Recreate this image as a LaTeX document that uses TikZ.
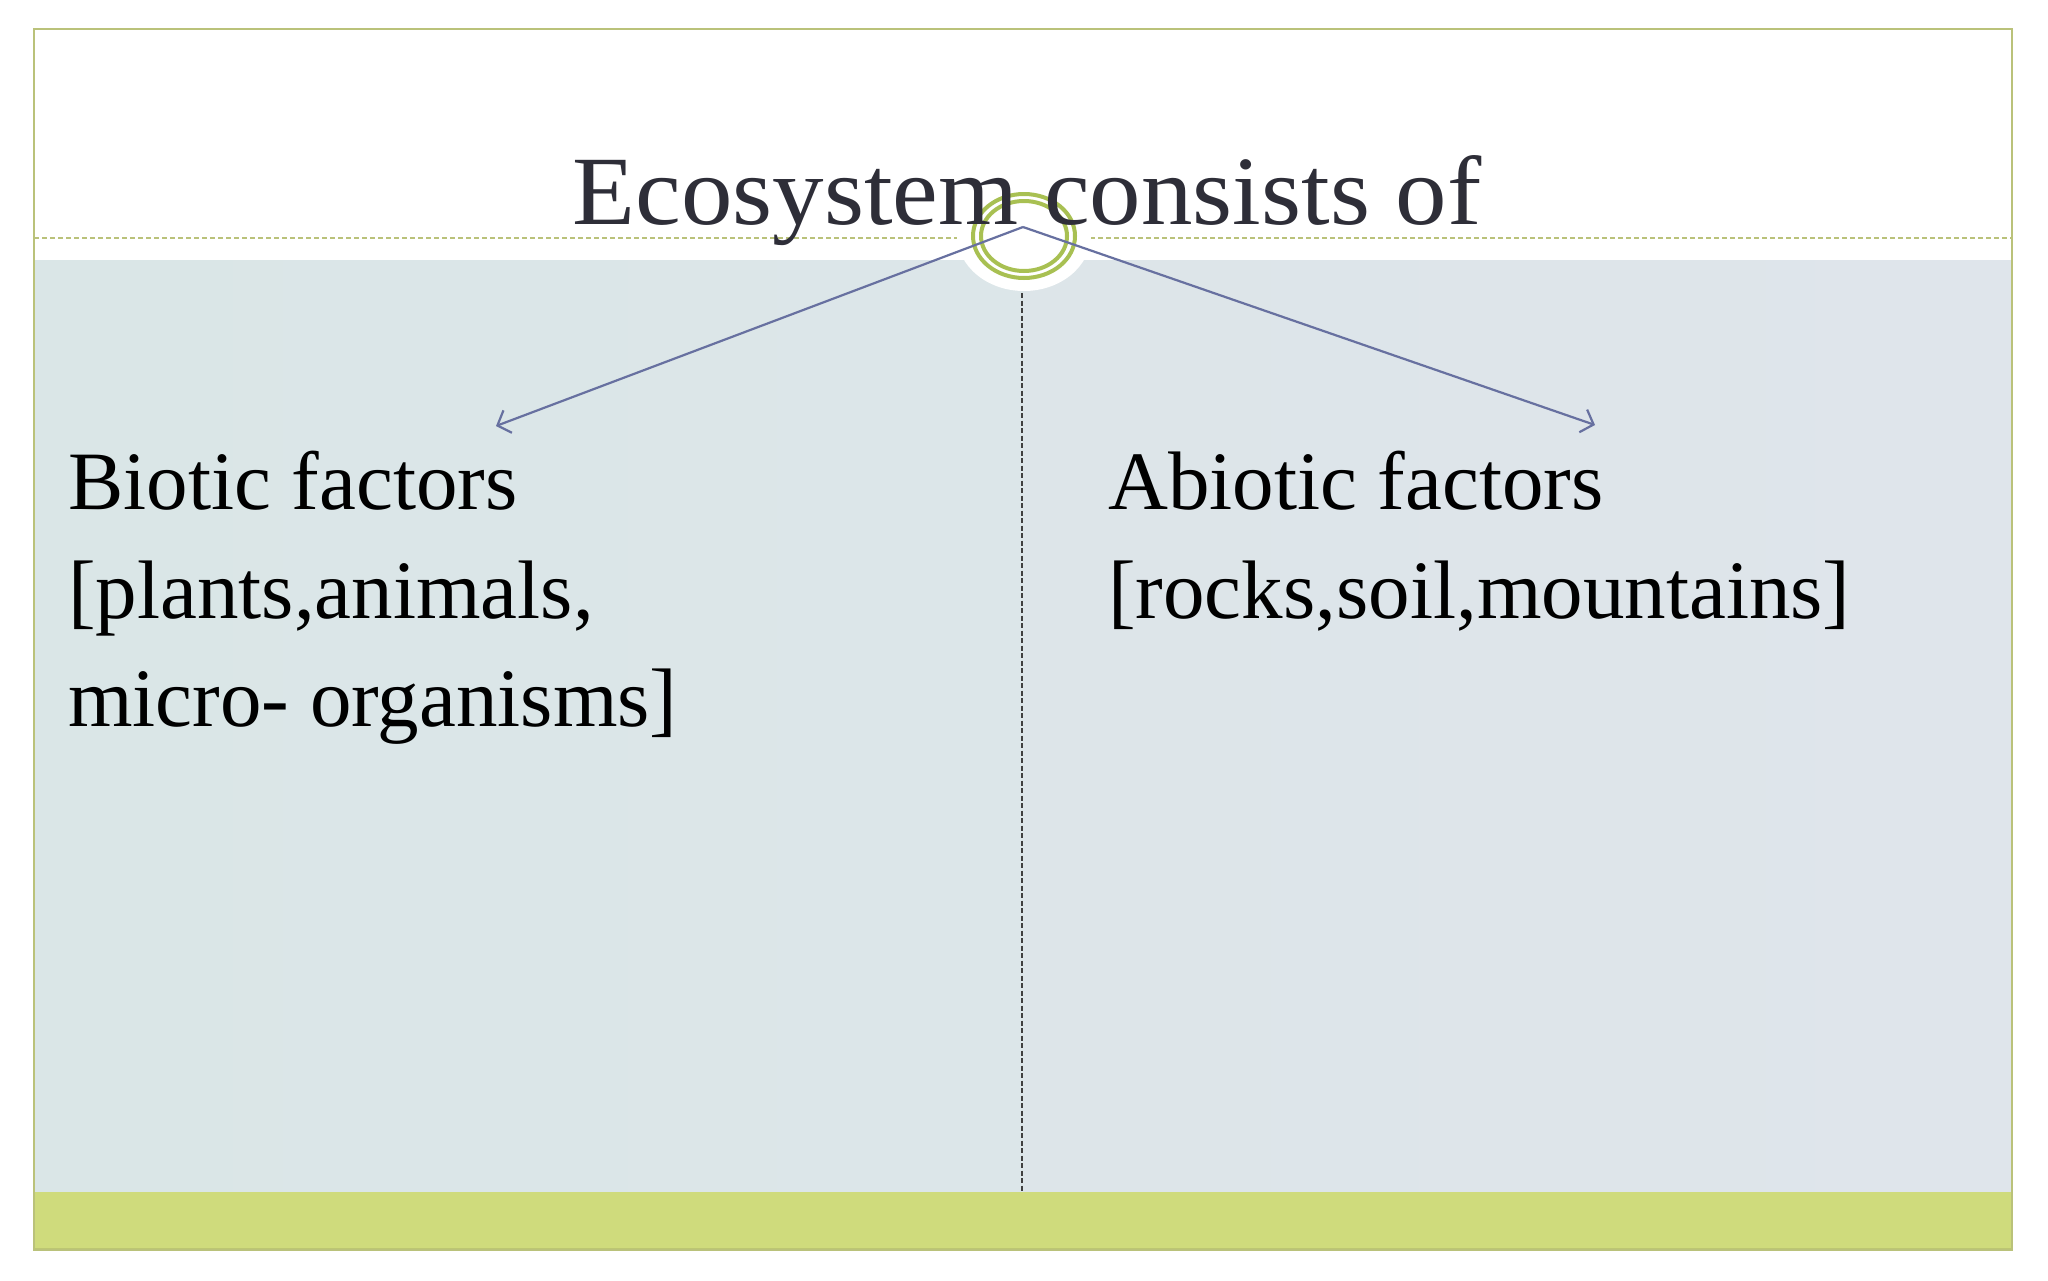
\documentclass[tikz,border=0pt]{standalone}
\usepackage{fontspec}
\setmainfont{Liberation Serif}
\usetikzlibrary{arrows.meta}
\definecolor{framec}{HTML}{BAC27A}
\definecolor{bluel}{HTML}{DAE6E7}
\definecolor{bluer}{HTML}{DFE5EB}
\definecolor{barc}{HTML}{CFDB7C}
\definecolor{barline}{HTML}{BCC672}
\definecolor{ringc}{HTML}{A8C052}
\definecolor{arrowc}{HTML}{6770A0}
\definecolor{titlec}{HTML}{2E2E38}
\tikzset{
  titletext/.style={inner sep=0pt, anchor=base, text=titlec, font=\fontsize{98}{110}\selectfont},
  bodytext/.style={inner sep=0pt, anchor=base west, text=black, font=\fontsize{83}{108}\selectfont},
  linkarrow/.style={draw=arrowc, line width=2.2pt, -{Straight Barb[length=11pt, width=24pt, line width=2.2pt]}},
  ring/.style={draw=ringc, line width=4pt},
}
\begin{document}
\begin{tikzpicture}[x=1pt, y=-1pt]
\useasboundingbox (0,0) rectangle (2048,1280);
\fill[white] (0,0) rectangle (2048,1280);
% blue content area
\shade[left color=bluel, right color=bluer] (34,260) rectangle (2012,1192);
% bottom green bar
\fill[barc] (34,1192) rectangle (2012,1250);
\draw[barline, line width=1.5pt] (34,1249) -- (2012,1249);
% green dashed title rule
\draw[framec, line width=1.6pt, dash pattern=on 5pt off 3pt] (34,238) -- (2012,238);
% white halo
\fill[white] (1024,235) ellipse [x radius=67, y radius=56];
% rings
\draw[ring] (1024,236) ellipse [x radius=51, y radius=42];
\draw[ring] (1024,236) ellipse [x radius=43, y radius=35];
% vertical dashed divider
\coordinate (divtop) at (1022,293);
\coordinate (divbot) at (1022,1192);
\draw[black!75, line width=1.4pt, dash pattern=on 5pt off 2.5pt] (divtop) -- (divbot);
% title
\node[titletext] (title) at (1027,224) {\scalebox{1.05}[1]{Ecosystem consists of}};
% body texts
\node[bodytext] (bio1) at (68,509) {Biotic factors};
\node[bodytext] (bio2) at (68,618) {[plants,animals,};
\node[bodytext] (bio3) at (68,726) {micro- organisms]};
\node[bodytext] (abio1) at (1108,509) {Abiotic factors};
\node[bodytext] (abio2) at (1108,618) {[rocks,soil,mountains]};
% arrows
\coordinate (apex) at (1023,227);
\coordinate (lefttip) at (496,426);
\coordinate (righttip) at (1595,425);
\draw[linkarrow] (apex) -- (lefttip);
\draw[linkarrow] (apex) -- (righttip);
% frame
\draw[framec, line width=2pt] (34,29) rectangle (2012,1250);
\end{tikzpicture}
\end{document}
